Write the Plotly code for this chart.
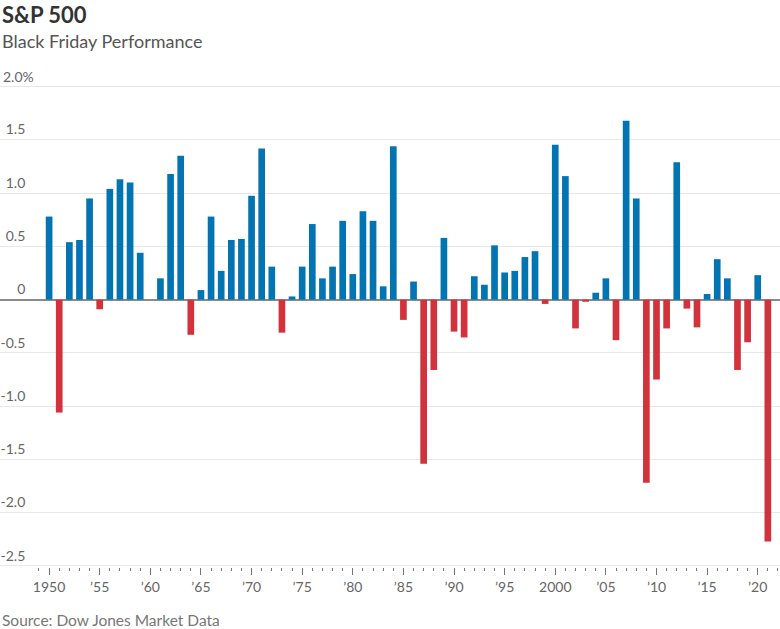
import plotly.graph_objects as go

years = list(range(1950, 2022))
values = [
    0.78, -1.06, 0.54, 0.56, 0.95, -0.09, 1.04, 1.13, 1.10, 0.44,
    0.00, 0.20, 1.18, 1.35, -0.33, 0.09, 0.78, 0.27, 0.56, 0.57,
    0.975, 1.42, 0.31, -0.31, 0.03, 0.31, 0.71, 0.20, 0.31, 0.74,
    0.24, 0.83, 0.74, 0.125, 1.44, -0.19, 0.17, -1.54, -0.66, 0.58,
    -0.30, -0.355, 0.22, 0.14, 0.51, 0.255, 0.27, 0.40, 0.455, -0.04,
    1.455, 1.16, -0.27, -0.02, 0.065, 0.20, -0.38, 1.68, 0.95, -1.72,
    -0.75, -0.27, 1.29, -0.084, -0.26, 0.053, 0.38, 0.20, -0.66, -0.40,
    0.23, -2.27,
]
x_tick_vals = list(range(1950, 2021, 5))
x_tick_text = ["1950", "’55", "’60", "’65", "’70", "’75", "’80", "’85", "’90", "’95",
               "2000", "’05", "’10", "’15", "’20"]
grid_vals = [2.0, 1.5, 1.0, 0.5, -0.5, -1.0, -1.5, -2.0, -2.5]
top_label_vals = [2.0]
top_label_text = ["2.0%"]
y_label_vals = [1.5, 1.0, 0.5, 0, -0.5, -1.0, -1.5, -2.0, -2.5]
y_label_text = ["1.5", "1.0", "0.5", "0", "-0.5", "-1.0", "-1.5", "-2.0", "-2.5"]

BLUE = "#0274b1"
RED = "#d2323c"
colors = [BLUE if v >= 0 else RED for v in values]

FONT = "Lato"
TICK_FONT = dict(family=FONT, size=14, color="#666666")

fig = go.Figure()
fig.add_trace(go.Bar(x=years, y=values, marker=dict(color=colors, line=dict(width=0)),
                     hoverinfo="x+y"))
# invisible companion trace so the secondary label axis is rendered
fig.add_trace(go.Scatter(x=[years[0]], y=[values[0]], yaxis="y2", mode="markers",
                         marker=dict(opacity=0), hoverinfo="skip", showlegend=False))

Y_TOP, Y_BOT = 2.25, -2.51
T = 60
B = 62
PH = 629 - T - B

def py(pix):
    return 1 + (T - pix) / PH

fig.update_layout(
    width=780, height=629,
    margin=dict(l=0, r=0, t=T, b=B, pad=0),
    paper_bgcolor="white", plot_bgcolor="white",
    bargap=0.34,
    showlegend=False,
    font=dict(family=FONT, color="#666666", size=14),
    xaxis=dict(
        range=[1945.15, 2022.2], domain=[0, 1],
        tickmode="array", tickvals=x_tick_vals, ticktext=x_tick_text,
        ticks="outside", ticklen=7, tickwidth=1, tickcolor="#777777",
        minor=dict(dtick=1, tick0=1950, ticks="outside", ticklen=3, tickwidth=1,
                   tickcolor="#777777", showgrid=False),
        showgrid=False, zeroline=False, showline=False,
        tickfont=TICK_FONT,
        fixedrange=True,
    ),
    yaxis=dict(
        range=[Y_BOT, Y_TOP],
        tickmode="array", tickvals=top_label_vals, ticktext=top_label_text,
        ticklabelposition="inside top",
        showgrid=False,
        zeroline=True, zerolinecolor="#8a8a8a", zerolinewidth=1.5,
        showline=False, ticks="",
        tickfont=TICK_FONT,
        fixedrange=True,
        minor=dict(tickmode="array", tickvals=grid_vals, showgrid=True,
                   gridcolor="#e8e8e8", gridwidth=1, ticks=""),
    ),
    yaxis2=dict(
        range=[Y_BOT, Y_TOP], overlaying="y", anchor="free", position=0.036, side="left",
        tickmode="array", tickvals=y_label_vals, ticktext=y_label_text,
        ticklabelposition="outside top",
        showgrid=False, zeroline=False, showline=False,
        ticks="outside", ticklen=1, tickcolor="rgba(0,0,0,0)",
        tickfont=TICK_FONT,
        fixedrange=True,
    ),
    annotations=[
        dict(text="<b>S&P 500</b>", xref="paper", yref="paper", x=0, y=py(15),
             xanchor="left", yanchor="middle", showarrow=False,
             font=dict(family=FONT, size=22, color="#333333")),
        dict(text="Black Friday Performance", xref="paper", yref="paper", x=0, y=py(41),
             xanchor="left", yanchor="middle", showarrow=False,
             font=dict(family=FONT, size=18, color="#555555")),
        dict(text="Source: Dow Jones Market Data", xref="paper", yref="paper", x=0, y=py(620),
             xanchor="left", yanchor="middle", showarrow=False,
             font=dict(family=FONT, size=15.5, color="#777777")),
    ],
)

fig.write_html("out.html")
